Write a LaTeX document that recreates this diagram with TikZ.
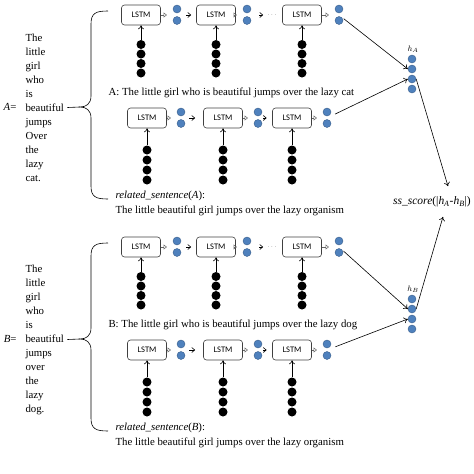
\documentclass[tikz,border=0pt]{standalone}
\usepackage{fontspec}
\setmainfont{Liberation Serif}
\newfontfamily\lstmfont{Carlito}
\usetikzlibrary{arrows.meta}
\definecolor{stblue}{HTML}{4F81BD}
\definecolor{stedge}{HTML}{385D8A}

\begin{document}
\begin{tikzpicture}[
    % Work in point units with y going down, like the pixel grid of the sketch.
    x={(1pt,0pt)},
    y={(0pt,-1pt)},
    font=\fontsize{10.8}{12}\selectfont
]
    % --- Style Definitions ---
    % 'lstm' is a cell, 'state' a blue hidden unit, 'embed' a black word vector unit.
    \tikzstyle{lstm} = [draw=black!75, line width=0.6pt, rounded corners=3pt, minimum width=39pt, minimum height=20pt, inner sep=0pt, font=\lstmfont\fontsize{8.5}{8.5}\selectfont]
    \tikzstyle{state} = [circle, fill=stblue, draw=stedge, line width=0.4pt, inner sep=0pt, minimum size=8pt]
    \tikzstyle{embed} = [circle, fill=black, inner sep=0pt, minimum size=9pt]
    \tikzstyle{link} = [draw, line width=0.6pt, -{To[length=4pt,width=6pt]}]
    \tikzstyle{pass} = [draw=black!60, line width=0.5pt, -{Triangle[open,length=3.5pt,width=5pt]}]
    \tikzstyle{chev} = [draw, line width=0.6pt, -{Straight Barb[length=3pt,width=5pt]}]

    \useasboundingbox (0,0) rectangle (474,474);

    % --- One block per sentence ---
    \foreach \blk/\o/\ho/\ov/\last in {A/0/0/Over/cat, B/232/240/over/dog}{
        % sentence column, brace and labels
        \node[anchor=east] (eq\blk) at (20,107+\o) {\textit{\blk}=};
        \node[anchor=west, align=left, font=\fontsize{10.8}{14}\selectfont] (words\blk) at (22,107.5+\o)
            {The\\little\\girl\\who\\is\\beautiful\\jumps\\\ov\\the\\lazy\\\last.};
        \coordinate (tip\blk) at (80,107+\o);
        \draw[line width=0.6pt] (108,11+\o) .. controls (96,11+\o) and (91,13+\o) .. (91,24+\o)
            -- (91,96+\o) .. controls (91,104+\o) and (86,107+\o) .. (tip\blk)
            .. controls (86,107+\o) and (91,110+\o) .. (91,118+\o)
            -- (91,186+\o) .. controls (91,197+\o) and (96,199+\o) .. (108,199+\o);
        \draw[line width=0.6pt] (words\blk.east) -- (tip\blk);

        \node[anchor=west] (sent\blk) at (105,93+\o) {\blk: The little girl who is beautiful jumps over the lazy \last};
        \node[anchor=west] (rel\blk) at (112,196+\o) {\textit{related\_sentence}(\textit{\blk}):};
        \node[anchor=west] (org\blk) at (112,211+\o) {The little beautiful girl jumps over the lazy organism};

        % sentence vector h
        \node[font=\fontsize{8.5}{8.5}\selectfont] (hl\blk) at (413,49+\ho) {$h_\blk$};
        \foreach \k in {1,...,4}
            \node[state] (h\blk\k) at (412,49+10*\k+\ho) {};

        % --- first LSTM chain (the sentence itself) ---
        \foreach \i/\x/\px in {1/141/177, 2/216/247, 3/302/339}{
            \node[lstm] (\blk1\i) at (\x,15+\o) {LSTM};
            \node[state] (\blk1\i u) at (\px,9+\o) {};
            \node[state] (\blk1\i d) at (\px,20.5+\o) {};
            \coordinate (\blk1\i p) at (\px,15+\o);
            \foreach \k in {1,...,4}
                \node[embed] (\blk1\i e\k) at (\x,35+9.5*\k+\o) {};
            \draw[link] (\blk1\i e1) -- (\blk1\i);
            \draw[pass, shorten >=10pt] (\blk1\i.east) -- (\blk1\i p);
        }
        \draw[chev, shorten <=9pt, shorten >=5pt] (\blk11p) -- (\blk12.west);
        \draw[chev, shorten <=12pt, shorten >=19pt] (\blk12p) -- (\blk13.west);
        \node[font=\tiny] (\blk dots) at (272,15+\o) {$\cdots$};

        % --- second LSTM chain (the related sentence) ---
        \foreach \i/\x/\px in {1/147/181, 2/223/258, 3/292/327}{
            \node[lstm] (\blk2\i) at (\x,118+\o) {LSTM};
            \node[state] (\blk2\i u) at (\px,112+\o) {};
            \node[state] (\blk2\i d) at (\px,123.5+\o) {};
            \coordinate (\blk2\i p) at (\px,118+\o);
            \foreach \k in {1,...,4}
                \node[embed] (\blk2\i e\k) at (\x,140+10*\k+\o) {};
            \draw[link] (\blk2\i e1) -- (\blk2\i);
            \draw[pass, shorten >=10pt] (\blk2\i.east) -- (\blk2\i p);
        }
        \draw[chev, shorten <=8pt, shorten >=8pt] (\blk21p) -- (\blk22.west);
        \draw[chev, shorten <=5pt, shorten >=5.5pt] (\blk22p) -- (\blk23.west);

        % last states feed h
        \draw[link, shorten <=6pt] (\blk13p) -- (h\blk2.west);
        \draw[link, shorten <=9pt] (\blk23p) -- (h\blk3.west);
    }

    % --- Score ---
    \node[font=\fontsize{11.5}{12}\selectfont] (score) at (432,202) {\textit{ss\_score}(|\textit{h}\textsubscript{\textit{A}}-\textit{h}\textsubscript{\textit{B}}|)};
    \draw[link] (hA3.east) -- ([xshift=16pt,yshift=7pt]score.north);
    \draw[link] (hB2.east) -- ([xshift=11pt,yshift=-6pt]score.south);
\end{tikzpicture}
\end{document}
